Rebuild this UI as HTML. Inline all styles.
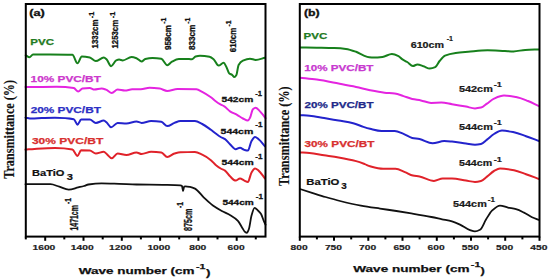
<!DOCTYPE html><html><head><meta charset="utf-8"><style>html,body{margin:0;padding:0;background:#fff;width:550px;height:280px;overflow:hidden}svg{display:block}</style></head><body>
<svg width="550" height="280" viewBox="0 0 550 280">
<rect width="550" height="280" fill="#fff"/>
<path d="M25.80,55.30 C27.03,55.93 28.27,57.20 29.50,57.20 C30.67,57.20 31.83,54.62 33.00,54.60 C38.67,54.52 44.33,54.50 50.00,54.50 C57.47,54.50 64.93,54.55 72.40,54.80 C74.10,54.86 75.80,63.30 77.50,63.30 C78.93,63.30 80.37,56.50 81.80,56.50 C84.47,56.50 87.13,56.93 89.80,57.50 C91.80,57.93 93.80,61.10 95.80,61.10 C98.47,61.10 101.13,57.50 103.80,57.50 C104.77,57.50 105.73,58.68 106.70,59.60 C108.17,61.00 109.63,66.20 111.10,66.20 C112.80,66.20 114.50,61.11 116.20,60.40 C117.17,59.99 118.13,59.60 119.10,59.60 C120.30,59.60 121.50,60.40 122.70,60.40 C125.63,60.40 128.57,57.10 131.50,57.10 C133.17,57.10 134.83,57.65 136.50,58.20 C138.20,58.76 139.90,61.60 141.60,61.60 C142.83,61.60 144.07,59.18 145.30,58.90 C147.70,58.35 150.10,58.00 152.50,58.00 C155.43,58.00 158.37,58.28 161.30,58.80 C163.30,59.15 165.30,65.20 167.30,65.20 C168.73,65.20 170.17,62.67 171.60,61.90 C174.03,60.59 176.47,59.00 178.90,59.00 C182.30,59.00 185.70,59.00 189.10,59.00 C190.07,59.00 191.03,59.30 192.00,59.30 C193.20,59.30 194.40,56.82 195.60,56.50 C197.07,56.10 198.53,55.80 200.00,55.80 C203.17,55.80 206.33,56.18 209.50,56.80 C210.87,57.07 212.23,58.12 213.60,59.20 C215.27,60.52 216.93,65.60 218.60,65.60 C220.27,65.60 221.93,62.70 223.60,62.70 C224.53,62.70 225.47,65.30 226.40,67.00 C227.37,68.76 228.33,72.71 229.30,73.50 C230.23,74.26 231.17,74.28 232.10,74.90 C232.83,75.39 233.57,77.00 234.30,77.00 C235.00,77.00 235.70,76.04 236.40,74.90 C237.13,73.70 237.87,66.19 238.60,64.90 C240.03,62.38 241.47,61.24 242.90,60.60 C245.27,59.55 247.63,58.70 250.00,58.70 C251.90,58.70 253.80,59.90 255.70,59.90 C258.80,59.90 261.90,58.43 265.00,57.70" fill="none" stroke="#17801c" stroke-width="2.0" stroke-linejoin="round" stroke-linecap="round"/>
<path d="M25.50,87.10 C35.80,86.97 46.10,86.70 56.40,86.70 C62.20,86.70 68.00,87.09 73.80,88.10 C75.27,88.35 76.73,91.50 78.20,91.50 C79.63,91.50 81.07,88.79 82.50,88.60 C84.93,88.27 87.37,88.10 89.80,88.10 C91.33,88.10 92.87,89.60 94.40,89.60 C96.80,89.60 99.20,88.60 101.60,88.60 C103.07,88.60 104.53,89.13 106.00,89.60 C107.93,90.22 109.87,92.90 111.80,92.90 C113.73,92.90 115.67,89.60 117.60,89.60 C120.03,89.60 122.47,90.60 124.90,90.60 C127.33,90.60 129.77,89.35 132.20,89.30 C135.10,89.24 138.00,89.26 140.90,89.20 C143.80,89.14 146.70,87.70 149.60,87.70 C153.00,87.70 156.40,88.11 159.80,88.60 C162.27,88.95 164.73,91.00 167.20,91.00 C170.63,91.00 174.07,88.90 177.50,88.90 C183.80,88.90 190.10,89.00 196.40,89.30 C198.33,89.39 200.27,90.82 202.20,91.80 C205.10,93.27 208.00,95.19 210.90,97.30 C212.50,98.47 214.10,100.11 215.70,101.30 C217.13,102.37 218.57,103.39 220.00,104.20 C221.43,105.01 222.87,105.41 224.30,106.30 C226.20,107.48 228.10,110.07 230.00,111.30 C232.37,112.84 234.73,113.57 237.10,114.90 C239.03,115.98 240.97,117.54 242.90,118.50 C244.57,119.33 246.23,120.60 247.90,120.60 C248.60,120.60 249.30,118.99 250.00,117.70 C250.97,115.92 251.93,110.07 252.90,109.20 C253.83,108.36 254.77,107.70 255.70,107.70 C256.90,107.70 258.10,109.46 259.30,110.60 C260.73,111.96 262.17,113.82 263.60,115.60 C264.23,116.39 264.87,117.27 265.50,118.10" fill="none" stroke="#e424e0" stroke-width="2.0" stroke-linejoin="round" stroke-linecap="round"/>
<path d="M25.50,117.70 C27.53,118.00 29.57,118.60 31.60,118.60 C35.00,118.60 38.40,118.23 41.80,118.10 C46.17,117.93 50.53,117.70 54.90,117.70 C61.20,117.70 67.50,118.01 73.80,119.20 C75.03,119.43 76.27,124.70 77.50,124.70 C78.70,124.70 79.90,119.60 81.10,119.60 C84.00,119.60 86.90,119.60 89.80,119.60 C91.80,119.60 93.80,122.90 95.80,122.90 C98.47,122.90 101.13,120.60 103.80,120.60 C104.77,120.60 105.73,121.72 106.70,122.50 C108.17,123.68 109.63,127.30 111.10,127.30 C113.27,127.30 115.43,122.90 117.60,122.90 C120.53,122.90 123.47,123.50 126.40,123.50 C129.77,123.50 133.13,121.50 136.50,121.50 C138.20,121.50 139.90,122.90 141.60,122.90 C144.77,122.90 147.93,121.10 151.10,121.10 C154.50,121.10 157.90,121.34 161.30,121.80 C163.30,122.07 165.30,126.10 167.30,126.10 C169.70,126.10 172.10,123.76 174.50,122.90 C176.47,122.19 178.43,121.10 180.40,121.10 C185.23,121.10 190.07,121.10 194.90,121.10 C197.33,121.10 199.77,122.80 202.20,124.00 C205.10,125.43 208.00,127.71 210.90,129.80 C212.50,130.95 214.10,132.33 215.70,133.50 C217.37,134.72 219.03,136.02 220.70,137.00 C222.13,137.84 223.57,138.24 225.00,139.20 C226.67,140.32 228.33,142.64 230.00,144.20 C231.90,145.98 233.80,149.20 235.70,149.20 C237.13,149.20 238.57,147.70 240.00,147.70 C241.43,147.70 242.87,149.50 244.30,149.90 C245.50,150.23 246.70,150.60 247.90,150.60 C249.07,150.60 250.23,143.23 251.40,141.30 C252.60,139.32 253.80,137.00 255.00,137.00 C256.20,137.00 257.40,138.28 258.60,139.20 C260.73,140.84 262.87,143.93 265.00,146.30" fill="none" stroke="#2323cc" stroke-width="2.0" stroke-linejoin="round" stroke-linecap="round"/>
<path d="M25.50,149.60 C28.50,149.37 31.50,149.06 34.50,148.90 C41.30,148.53 48.10,148.10 54.90,148.10 C60.73,148.10 66.57,148.49 72.40,149.60 C74.10,149.92 75.80,155.90 77.50,155.90 C78.70,155.90 79.90,150.30 81.10,150.30 C84.00,150.30 86.90,150.40 89.80,150.60 C91.80,150.74 93.80,153.50 95.80,153.50 C98.47,153.50 101.13,151.80 103.80,151.80 C104.77,151.80 105.73,153.23 106.70,154.00 C108.40,155.35 110.10,158.30 111.80,158.30 C113.73,158.30 115.67,153.50 117.60,153.50 C120.53,153.50 123.47,155.00 126.40,155.00 C129.77,155.00 133.13,152.50 136.50,152.50 C138.20,152.50 139.90,154.00 141.60,154.00 C144.77,154.00 147.93,151.80 151.10,151.80 C154.50,151.80 157.90,152.04 161.30,152.50 C163.30,152.77 165.30,156.90 167.30,156.90 C169.70,156.90 172.10,154.21 174.50,153.50 C176.47,152.92 178.43,152.23 180.40,152.20 C185.23,152.13 190.07,152.10 194.90,152.10 C197.33,152.10 199.77,153.60 202.20,154.70 C205.10,156.01 208.00,157.92 210.90,160.20 C212.50,161.46 214.10,163.57 215.70,164.90 C217.37,166.28 219.03,167.53 220.70,168.50 C222.13,169.33 223.57,169.63 225.00,170.60 C226.67,171.73 228.33,174.78 230.00,176.30 C231.90,178.03 233.80,180.60 235.70,180.60 C237.13,180.60 238.57,178.50 240.00,178.50 C241.43,178.50 242.87,179.98 244.30,180.60 C245.50,181.12 246.70,182.00 247.90,182.00 C249.07,182.00 250.23,174.60 251.40,172.70 C252.60,170.75 253.80,168.50 255.00,168.50 C256.20,168.50 257.40,169.68 258.60,170.60 C260.73,172.24 262.87,175.87 265.00,178.50" fill="none" stroke="#e0222a" stroke-width="2.0" stroke-linejoin="round" stroke-linecap="round"/>
<path d="M25.50,184.20 C33.83,184.20 42.17,184.20 50.50,184.20 C53.43,184.20 56.37,185.83 59.30,186.70 C62.43,187.63 65.57,189.60 68.70,189.60 C71.87,189.60 75.03,188.15 78.20,187.40 C80.13,186.94 82.07,186.55 84.00,186.00 C85.47,185.58 86.93,184.73 88.40,184.50 C92.80,183.80 97.20,183.30 101.60,183.30 C107.43,183.30 113.27,183.61 119.10,183.80 C124.90,183.99 130.70,184.37 136.50,184.50 C145.23,184.70 153.97,184.72 162.70,184.90 C168.60,185.02 174.50,184.99 180.40,185.40 C180.93,185.44 181.47,185.60 182.00,186.00 C182.33,186.25 182.67,191.00 183.00,191.00 C183.40,191.00 183.80,186.78 184.20,186.60 C184.63,186.41 185.07,186.30 185.50,186.30 C187.00,186.30 188.50,186.61 190.00,186.90 C191.67,187.22 193.33,187.79 195.00,188.60 C197.97,190.04 200.93,194.79 203.90,197.60 C206.90,200.44 209.90,203.44 212.90,205.60 C215.87,207.74 218.83,209.38 221.80,211.00 C224.77,212.62 227.73,213.62 230.70,215.40 C233.10,216.84 235.50,218.27 237.90,220.80 C239.37,222.35 240.83,225.67 242.30,227.90 C243.27,229.37 244.23,231.51 245.20,232.10 C245.77,232.45 246.33,232.80 246.90,232.80 C247.57,232.80 248.23,230.82 248.90,229.00 C249.73,226.72 250.57,218.99 251.40,216.10 C252.47,212.40 253.53,207.90 254.60,207.90 C255.73,207.90 256.87,209.55 258.00,210.60 C258.97,211.50 259.93,212.35 260.90,213.80 C262.10,215.61 263.30,220.18 264.50,222.70 C264.83,223.40 265.17,223.97 265.50,224.60" fill="none" stroke="#111111" stroke-width="1.8" stroke-linejoin="round" stroke-linecap="round"/>
<path d="M300.00,47.40 C305.60,47.50 311.20,47.59 316.80,47.70 C322.63,47.82 328.47,47.89 334.30,48.10 C338.17,48.24 342.03,48.47 345.90,48.90 C349.30,49.28 352.70,50.56 356.10,51.80 C358.53,52.69 360.97,54.45 363.40,55.40 C365.33,56.16 367.27,57.09 369.20,57.30 C370.70,57.46 372.20,57.60 373.70,57.60 C376.63,57.60 379.57,57.27 382.50,56.90 C385.63,56.51 388.77,54.00 391.90,54.00 C394.10,54.00 396.30,55.03 398.50,56.10 C399.70,56.68 400.90,58.38 402.10,59.20 C403.80,60.35 405.50,60.96 407.20,62.00 C409.10,63.17 411.00,66.00 412.90,66.00 C414.37,66.00 415.83,64.50 417.30,64.50 C419.40,64.50 421.50,65.62 423.60,66.30 C425.67,66.97 427.73,68.60 429.80,68.60 C431.60,68.60 433.40,68.01 435.20,67.20 C436.67,66.54 438.13,62.73 439.60,61.00 C441.40,58.88 443.20,56.38 445.00,55.60 C448.57,54.06 452.13,53.40 455.70,52.90 C459.87,52.31 464.03,52.06 468.20,51.70 C474.63,51.14 481.07,50.20 487.50,50.20 C493.30,50.20 499.10,50.73 504.90,51.00 C507.80,51.13 510.70,51.40 513.60,51.40 C517.50,51.40 521.40,50.09 525.30,49.90 C529.87,49.68 534.43,49.63 539.00,49.50" fill="none" stroke="#17801c" stroke-width="2.0" stroke-linejoin="round" stroke-linecap="round"/>
<path d="M300.00,77.70 C305.60,78.33 311.20,78.83 316.80,79.60 C324.07,80.60 331.33,82.14 338.60,83.50 C344.43,84.59 350.27,85.65 356.10,86.90 C360.73,87.89 365.37,89.27 370.00,90.20 C374.83,91.17 379.67,92.15 384.50,92.70 C387.90,93.09 391.30,93.14 394.70,93.60 C397.63,94.00 400.57,95.20 403.50,96.10 C406.40,96.99 409.30,98.37 412.20,99.00 C415.10,99.63 418.00,99.84 420.90,100.40 C424.30,101.06 427.70,102.90 431.10,102.90 C434.50,102.90 437.90,102.60 441.30,102.60 C444.87,102.60 448.43,103.63 452.00,104.20 C456.67,104.94 461.33,105.73 466.00,106.60 C469.00,107.16 472.00,108.40 475.00,108.40 C477.00,108.40 479.00,108.04 481.00,107.60 C483.00,107.16 485.00,104.98 487.00,103.60 C489.33,101.99 491.67,99.61 494.00,98.60 C497.33,97.16 500.67,95.60 504.00,95.60 C508.00,95.60 512.00,96.31 516.00,97.00 C520.00,97.69 524.00,99.43 528.00,101.00 C531.67,102.44 535.33,104.47 539.00,106.20" fill="none" stroke="#e424e0" stroke-width="2.0" stroke-linejoin="round" stroke-linecap="round"/>
<path d="M300.00,115.20 C303.17,115.37 306.33,115.46 309.50,115.70 C314.37,116.07 319.23,117.28 324.10,118.10 C328.93,118.91 333.77,119.75 338.60,120.60 C343.47,121.45 348.33,122.01 353.20,123.20 C356.60,124.03 360.00,125.82 363.40,126.90 C365.60,127.60 367.80,128.29 370.00,128.80 C373.87,129.70 377.73,131.00 381.60,131.00 C385.97,131.00 390.33,131.00 394.70,131.00 C397.63,131.00 400.57,132.77 403.50,133.90 C406.40,135.01 409.30,137.25 412.20,137.90 C414.63,138.44 417.07,138.51 419.50,139.00 C423.83,139.87 428.17,143.30 432.50,143.30 C436.40,143.30 440.30,141.10 444.20,141.10 C446.80,141.10 449.40,141.38 452.00,141.60 C456.67,142.00 461.33,142.96 466.00,143.60 C469.00,144.01 472.00,144.80 475.00,144.80 C477.00,144.80 479.00,144.45 481.00,144.00 C483.00,143.55 485.00,141.13 487.00,139.60 C489.33,137.82 491.67,135.30 494.00,134.00 C496.67,132.51 499.33,130.60 502.00,130.60 C506.00,130.60 510.00,131.44 514.00,132.20 C518.00,132.96 522.00,134.80 526.00,136.20 C530.33,137.72 534.67,139.40 539.00,141.00" fill="none" stroke="#2323cc" stroke-width="2.0" stroke-linejoin="round" stroke-linecap="round"/>
<path d="M300.00,152.40 C303.17,152.63 306.33,152.79 309.50,153.10 C314.37,153.57 319.23,154.56 324.10,155.30 C328.93,156.03 333.77,156.66 338.60,157.50 C344.43,158.51 350.27,159.55 356.10,161.10 C359.00,161.87 361.90,162.99 364.80,164.10 C366.53,164.76 368.27,165.82 370.00,166.30 C374.37,167.51 378.73,168.80 383.10,168.80 C387.23,168.80 391.37,168.80 395.50,168.80 C398.63,168.80 401.77,170.88 404.90,172.10 C407.57,173.14 410.23,175.05 412.90,175.60 C415.10,176.05 417.30,176.10 419.50,176.50 C424.33,177.37 429.17,180.90 434.00,180.90 C436.90,180.90 439.80,178.50 442.70,178.50 C445.80,178.50 448.90,178.54 452.00,178.60 C456.67,178.69 461.33,179.93 466.00,180.60 C469.00,181.03 472.00,181.90 475.00,181.90 C477.00,181.90 479.00,181.50 481.00,181.00 C483.00,180.50 485.00,178.13 487.00,176.60 C489.33,174.82 491.67,172.23 494.00,171.00 C496.00,169.94 498.00,168.60 500.00,168.60 C504.67,168.60 509.33,169.40 514.00,170.20 C518.00,170.89 522.00,172.80 526.00,174.20 C530.33,175.72 534.67,177.40 539.00,179.00" fill="none" stroke="#e0222a" stroke-width="2.0" stroke-linejoin="round" stroke-linecap="round"/>
<path d="M300.00,189.00 C304.00,190.27 308.00,191.54 312.00,192.80 C316.50,194.21 321.00,195.68 325.50,197.00 C330.33,198.41 335.17,199.81 340.00,201.00 C346.97,202.72 353.93,204.33 360.90,205.60 C367.27,206.76 373.63,207.64 380.00,208.60 C385.47,209.43 390.93,210.16 396.40,211.00 C402.13,211.88 407.87,212.82 413.60,213.80 C419.53,214.81 425.47,215.83 431.40,217.00 C434.97,217.70 438.53,218.54 442.10,219.30 C445.40,220.00 448.70,220.48 452.00,221.40 C454.67,222.15 457.33,223.36 460.00,224.60 C463.33,226.15 466.67,229.13 470.00,230.20 C471.67,230.74 473.33,231.40 475.00,231.40 C476.67,231.40 478.33,230.68 480.00,229.80 C482.00,228.74 484.00,222.79 486.00,219.60 C488.00,216.41 490.00,212.40 492.00,210.60 C494.67,208.20 497.33,205.60 500.00,205.60 C502.67,205.60 505.33,207.01 508.00,207.60 C510.67,208.19 513.33,208.47 516.00,209.20 C518.67,209.93 521.33,211.30 524.00,212.60 C526.67,213.90 529.33,215.95 532.00,217.20 C534.33,218.30 536.67,219.07 539.00,220.00" fill="none" stroke="#111111" stroke-width="1.8" stroke-linejoin="round" stroke-linecap="round"/>
<rect x="25.8" y="4" width="239.7" height="232.6" fill="none" stroke="#000" stroke-width="2"/>
<rect x="299.8" y="4" width="239.7" height="232.6" fill="none" stroke="#000" stroke-width="2"/>
<line x1="45.2" y1="236.6" x2="45.2" y2="240.8" stroke="#000" stroke-width="2"/>
<line x1="83.5" y1="236.6" x2="83.5" y2="240.8" stroke="#000" stroke-width="2"/>
<line x1="121.8" y1="236.6" x2="121.8" y2="240.8" stroke="#000" stroke-width="2"/>
<line x1="160.1" y1="236.6" x2="160.1" y2="240.8" stroke="#000" stroke-width="2"/>
<line x1="198.4" y1="236.6" x2="198.4" y2="240.8" stroke="#000" stroke-width="2"/>
<line x1="236.7" y1="236.6" x2="236.7" y2="240.8" stroke="#000" stroke-width="2"/>
<line x1="64.3" y1="236.6" x2="64.3" y2="239.4" stroke="#000" stroke-width="2"/>
<line x1="102.7" y1="236.6" x2="102.7" y2="239.4" stroke="#000" stroke-width="2"/>
<line x1="140.9" y1="236.6" x2="140.9" y2="239.4" stroke="#000" stroke-width="2"/>
<line x1="179.2" y1="236.6" x2="179.2" y2="239.4" stroke="#000" stroke-width="2"/>
<line x1="217.5" y1="236.6" x2="217.5" y2="239.4" stroke="#000" stroke-width="2"/>
<line x1="255.8" y1="236.6" x2="255.8" y2="239.4" stroke="#000" stroke-width="2"/>
<line x1="25.8" y1="236.6" x2="25.8" y2="239.4" stroke="#000" stroke-width="2"/>
<line x1="299.8" y1="236.6" x2="299.8" y2="240.8" stroke="#000" stroke-width="2"/>
<line x1="316.9" y1="236.6" x2="316.9" y2="239.4" stroke="#000" stroke-width="2"/>
<line x1="334.0" y1="236.6" x2="334.0" y2="240.8" stroke="#000" stroke-width="2"/>
<line x1="351.2" y1="236.6" x2="351.2" y2="239.4" stroke="#000" stroke-width="2"/>
<line x1="368.3" y1="236.6" x2="368.3" y2="240.8" stroke="#000" stroke-width="2"/>
<line x1="385.4" y1="236.6" x2="385.4" y2="239.4" stroke="#000" stroke-width="2"/>
<line x1="402.5" y1="236.6" x2="402.5" y2="240.8" stroke="#000" stroke-width="2"/>
<line x1="419.6" y1="236.6" x2="419.6" y2="239.4" stroke="#000" stroke-width="2"/>
<line x1="436.8" y1="236.6" x2="436.8" y2="240.8" stroke="#000" stroke-width="2"/>
<line x1="453.9" y1="236.6" x2="453.9" y2="239.4" stroke="#000" stroke-width="2"/>
<line x1="471.0" y1="236.6" x2="471.0" y2="240.8" stroke="#000" stroke-width="2"/>
<line x1="488.1" y1="236.6" x2="488.1" y2="239.4" stroke="#000" stroke-width="2"/>
<line x1="505.2" y1="236.6" x2="505.2" y2="240.8" stroke="#000" stroke-width="2"/>
<line x1="522.4" y1="236.6" x2="522.4" y2="239.4" stroke="#000" stroke-width="2"/>
<line x1="539.5" y1="236.6" x2="539.5" y2="240.8" stroke="#000" stroke-width="2"/>
<text x="32.5" y="249.7" font-family='"Liberation Sans", sans-serif' font-weight="bold" font-size="8.00" fill="#222" stroke="#222" stroke-width="0.20" textLength="22.8" lengthAdjust="spacingAndGlyphs">1600</text>
<text x="70.8" y="249.7" font-family='"Liberation Sans", sans-serif' font-weight="bold" font-size="8.00" fill="#222" stroke="#222" stroke-width="0.20" textLength="22.8" lengthAdjust="spacingAndGlyphs">1400</text>
<text x="109.1" y="249.7" font-family='"Liberation Sans", sans-serif' font-weight="bold" font-size="8.00" fill="#222" stroke="#222" stroke-width="0.20" textLength="22.8" lengthAdjust="spacingAndGlyphs">1200</text>
<text x="147.4" y="249.7" font-family='"Liberation Sans", sans-serif' font-weight="bold" font-size="8.00" fill="#222" stroke="#222" stroke-width="0.20" textLength="22.8" lengthAdjust="spacingAndGlyphs">1000</text>
<text x="189.2" y="249.7" font-family='"Liberation Sans", sans-serif' font-weight="bold" font-size="8.00" fill="#222" stroke="#222" stroke-width="0.20" textLength="17.1" lengthAdjust="spacingAndGlyphs">800</text>
<text x="227.5" y="249.7" font-family='"Liberation Sans", sans-serif' font-weight="bold" font-size="8.00" fill="#222" stroke="#222" stroke-width="0.20" textLength="17.1" lengthAdjust="spacingAndGlyphs">600</text>
<text x="290.6" y="249.7" font-family='"Liberation Sans", sans-serif' font-weight="bold" font-size="8.00" fill="#222" stroke="#222" stroke-width="0.20" textLength="17.1" lengthAdjust="spacingAndGlyphs">800</text>
<text x="324.9" y="249.7" font-family='"Liberation Sans", sans-serif' font-weight="bold" font-size="8.00" fill="#222" stroke="#222" stroke-width="0.20" textLength="17.1" lengthAdjust="spacingAndGlyphs">750</text>
<text x="359.1" y="249.7" font-family='"Liberation Sans", sans-serif' font-weight="bold" font-size="8.00" fill="#222" stroke="#222" stroke-width="0.20" textLength="17.1" lengthAdjust="spacingAndGlyphs">700</text>
<text x="393.4" y="249.7" font-family='"Liberation Sans", sans-serif' font-weight="bold" font-size="8.00" fill="#222" stroke="#222" stroke-width="0.20" textLength="17.1" lengthAdjust="spacingAndGlyphs">650</text>
<text x="427.6" y="249.7" font-family='"Liberation Sans", sans-serif' font-weight="bold" font-size="8.00" fill="#222" stroke="#222" stroke-width="0.20" textLength="17.1" lengthAdjust="spacingAndGlyphs">600</text>
<text x="461.8" y="249.7" font-family='"Liberation Sans", sans-serif' font-weight="bold" font-size="8.00" fill="#222" stroke="#222" stroke-width="0.20" textLength="17.1" lengthAdjust="spacingAndGlyphs">550</text>
<text x="496.1" y="249.7" font-family='"Liberation Sans", sans-serif' font-weight="bold" font-size="8.00" fill="#222" stroke="#222" stroke-width="0.20" textLength="17.1" lengthAdjust="spacingAndGlyphs">500</text>
<text x="530.3" y="249.7" font-family='"Liberation Sans", sans-serif' font-weight="bold" font-size="8.00" fill="#222" stroke="#222" stroke-width="0.20" textLength="17.1" lengthAdjust="spacingAndGlyphs">450</text>
<text x="78.8" y="274.4" font-family='"Liberation Sans", sans-serif' font-weight="bold" font-size="9.60" fill="#111" stroke="#111" stroke-width="0.25" textLength="115.7" lengthAdjust="spacingAndGlyphs">Wave number (cm</text>
<text x="195.9" y="269.1" font-family='"Liberation Sans", sans-serif' font-weight="bold" font-size="8.00" fill="#111" stroke="#111" stroke-width="0.25" textLength="9.5" lengthAdjust="spacingAndGlyphs">-1</text>
<text x="206.0" y="275.8" font-family='"Liberation Sans", sans-serif' font-weight="bold" font-size="9.60" fill="#111" stroke="#111" stroke-width="0.25" textLength="4.5" lengthAdjust="spacingAndGlyphs">)</text>
<text x="353.3" y="272.4" font-family='"Liberation Sans", sans-serif' font-weight="bold" font-size="9.60" fill="#111" stroke="#111" stroke-width="0.25" textLength="116.2" lengthAdjust="spacingAndGlyphs">Wave number (cm</text>
<text x="470.8" y="267.4" font-family='"Liberation Sans", sans-serif' font-weight="bold" font-size="8.00" fill="#111" stroke="#111" stroke-width="0.25" textLength="9.6" lengthAdjust="spacingAndGlyphs">-1</text>
<text x="480.5" y="273.8" font-family='"Liberation Sans", sans-serif' font-weight="bold" font-size="9.60" fill="#111" stroke="#111" stroke-width="0.25" textLength="4.3" lengthAdjust="spacingAndGlyphs">)</text>
<text transform="translate(14.0,178.8) scale(1.200,1) rotate(-90)" x="0" y="0" font-family='"Liberation Serif", serif' font-weight="bold" font-size="13.00" fill="#111" stroke="#111" stroke-width="0.15" textLength="98.8" lengthAdjust="spacingAndGlyphs">Transmittance (%)</text>
<text transform="translate(289.4,186.0) scale(1.200,1) rotate(-90)" x="0" y="0" font-family='"Liberation Serif", serif' font-weight="bold" font-size="13.00" fill="#111" stroke="#111" stroke-width="0.15" textLength="99.6" lengthAdjust="spacingAndGlyphs">Transmittance (%)</text>
<text x="29.2" y="16.2" font-family='"Liberation Sans", sans-serif' font-weight="bold" font-size="9.30" fill="#111" stroke="#111" stroke-width="0.35" textLength="15.5" lengthAdjust="spacingAndGlyphs">(a)</text>
<text x="304.0" y="16.0" font-family='"Liberation Sans", sans-serif' font-weight="bold" font-size="9.30" fill="#111" stroke="#111" stroke-width="0.35" textLength="15.7" lengthAdjust="spacingAndGlyphs">(b)</text>
<text x="30.3" y="45.2" font-family='"Liberation Sans", sans-serif' font-weight="bold" font-size="9.50" fill="#1f7a22" stroke="#1f7a22" stroke-width="0.25" textLength="23.7" lengthAdjust="spacingAndGlyphs">PVC</text>
<text x="30.6" y="81.5" font-family='"Liberation Sans", sans-serif' font-weight="bold" font-size="9.20" fill="#cc38cc" stroke="#cc38cc" stroke-width="0.25" textLength="70.3" lengthAdjust="spacingAndGlyphs">10% PVC/BT</text>
<text x="30.7" y="113.1" font-family='"Liberation Sans", sans-serif' font-weight="bold" font-size="9.20" fill="#2c30c4" stroke="#2c30c4" stroke-width="0.25" textLength="70.2" lengthAdjust="spacingAndGlyphs">20% PVC/BT</text>
<text x="31.9" y="143.9" font-family='"Liberation Sans", sans-serif' font-weight="bold" font-size="9.20" fill="#d83030" stroke="#d83030" stroke-width="0.25" textLength="71.5" lengthAdjust="spacingAndGlyphs">30% PVC/BT</text>
<text x="32.0" y="175.6" font-family='"Liberation Sans", sans-serif' font-weight="bold" font-size="8.60" fill="#111" stroke="#111" stroke-width="0.20" textLength="32.5" lengthAdjust="spacingAndGlyphs">BaTiO</text>
<text x="66.8" y="179.8" font-family='"Liberation Sans", sans-serif' font-weight="bold" font-size="9.00" fill="#111" stroke="#111" stroke-width="0.20" textLength="6.2" lengthAdjust="spacingAndGlyphs">3</text>
<text x="303.6" y="39.4" font-family='"Liberation Sans", sans-serif' font-weight="bold" font-size="9.50" fill="#1f7a22" stroke="#1f7a22" stroke-width="0.25" textLength="23.7" lengthAdjust="spacingAndGlyphs">PVC</text>
<text x="304.2" y="70.9" font-family='"Liberation Sans", sans-serif' font-weight="bold" font-size="9.20" fill="#c83ad0" stroke="#c83ad0" stroke-width="0.25" textLength="69.3" lengthAdjust="spacingAndGlyphs">10% PVC/BT</text>
<text x="304.5" y="107.5" font-family='"Liberation Sans", sans-serif' font-weight="bold" font-size="9.20" fill="#222a8a" stroke="#222a8a" stroke-width="0.25" textLength="69.1" lengthAdjust="spacingAndGlyphs">20% PVC/BT</text>
<text x="304.5" y="146.7" font-family='"Liberation Sans", sans-serif' font-weight="bold" font-size="9.20" fill="#d83030" stroke="#d83030" stroke-width="0.25" textLength="69.9" lengthAdjust="spacingAndGlyphs">30% PVC/BT</text>
<text x="306.3" y="185.2" font-family='"Liberation Sans", sans-serif' font-weight="bold" font-size="8.60" fill="#111" stroke="#111" stroke-width="0.20" textLength="33.1" lengthAdjust="spacingAndGlyphs">BaTiO</text>
<text x="341.3" y="189.2" font-family='"Liberation Sans", sans-serif' font-weight="bold" font-size="9.00" fill="#111" stroke="#111" stroke-width="0.20" textLength="5.5" lengthAdjust="spacingAndGlyphs">3</text>
<text x="221.5" y="102.4" font-family='"Liberation Sans", sans-serif' font-weight="bold" font-size="8.00" fill="#111" stroke="#111" stroke-width="0.30" textLength="31.8" lengthAdjust="spacingAndGlyphs">542cm</text>
<text x="255.3" y="96.3" font-family='"Liberation Sans", sans-serif' font-weight="bold" font-size="7.60" fill="#111" stroke="#111" stroke-width="0.30" textLength="6.8" lengthAdjust="spacingAndGlyphs">-1</text>
<text x="220.6" y="133.5" font-family='"Liberation Sans", sans-serif' font-weight="bold" font-size="8.00" fill="#111" stroke="#111" stroke-width="0.30" textLength="32.7" lengthAdjust="spacingAndGlyphs">544cm</text>
<text x="255.3" y="127.4" font-family='"Liberation Sans", sans-serif' font-weight="bold" font-size="7.60" fill="#111" stroke="#111" stroke-width="0.30" textLength="7.2" lengthAdjust="spacingAndGlyphs">-1</text>
<text x="221.5" y="164.8" font-family='"Liberation Sans", sans-serif' font-weight="bold" font-size="8.00" fill="#111" stroke="#111" stroke-width="0.30" textLength="32.3" lengthAdjust="spacingAndGlyphs">544cm</text>
<text x="255.3" y="158.9" font-family='"Liberation Sans", sans-serif' font-weight="bold" font-size="7.60" fill="#111" stroke="#111" stroke-width="0.30" textLength="7.2" lengthAdjust="spacingAndGlyphs">-1</text>
<text x="222.4" y="204.8" font-family='"Liberation Sans", sans-serif' font-weight="bold" font-size="8.00" fill="#111" stroke="#111" stroke-width="0.30" textLength="31.4" lengthAdjust="spacingAndGlyphs">544cm</text>
<text x="255.7" y="199.3" font-family='"Liberation Sans", sans-serif' font-weight="bold" font-size="7.60" fill="#111" stroke="#111" stroke-width="0.30" textLength="7.2" lengthAdjust="spacingAndGlyphs">-1</text>
<text x="410.7" y="47.5" font-family='"Liberation Sans", sans-serif' font-weight="bold" font-size="8.20" fill="#1a1a1a" stroke="#1a1a1a" stroke-width="0.20" textLength="33.4" lengthAdjust="spacingAndGlyphs">610cm</text>
<text x="446.7" y="41.1" font-family='"Liberation Sans", sans-serif' font-weight="bold" font-size="7.20" fill="#1a1a1a" stroke="#1a1a1a" stroke-width="0.20" textLength="6.3" lengthAdjust="spacingAndGlyphs">-1</text>
<text x="459.0" y="91.6" font-family='"Liberation Sans", sans-serif' font-weight="bold" font-size="8.20" fill="#1a1a1a" stroke="#1a1a1a" stroke-width="0.20" textLength="33.8" lengthAdjust="spacingAndGlyphs">542cm</text>
<text x="493.8" y="86.5" font-family='"Liberation Sans", sans-serif' font-weight="bold" font-size="7.20" fill="#1a1a1a" stroke="#1a1a1a" stroke-width="0.20" textLength="8.2" lengthAdjust="spacingAndGlyphs">-1</text>
<text x="459.0" y="129.6" font-family='"Liberation Sans", sans-serif' font-weight="bold" font-size="8.20" fill="#1a1a1a" stroke="#1a1a1a" stroke-width="0.20" textLength="33.8" lengthAdjust="spacingAndGlyphs">544cm</text>
<text x="493.8" y="124.5" font-family='"Liberation Sans", sans-serif' font-weight="bold" font-size="7.20" fill="#1a1a1a" stroke="#1a1a1a" stroke-width="0.20" textLength="8.2" lengthAdjust="spacingAndGlyphs">-1</text>
<text x="459.0" y="166.4" font-family='"Liberation Sans", sans-serif' font-weight="bold" font-size="8.20" fill="#1a1a1a" stroke="#1a1a1a" stroke-width="0.20" textLength="33.2" lengthAdjust="spacingAndGlyphs">544cm</text>
<text x="493.8" y="161.5" font-family='"Liberation Sans", sans-serif' font-weight="bold" font-size="7.20" fill="#1a1a1a" stroke="#1a1a1a" stroke-width="0.20" textLength="8.2" lengthAdjust="spacingAndGlyphs">-1</text>
<text x="453.0" y="207.0" font-family='"Liberation Sans", sans-serif' font-weight="bold" font-size="8.20" fill="#1a1a1a" stroke="#1a1a1a" stroke-width="0.20" textLength="33.8" lengthAdjust="spacingAndGlyphs">544cm</text>
<text x="487.8" y="201.5" font-family='"Liberation Sans", sans-serif' font-weight="bold" font-size="7.20" fill="#1a1a1a" stroke="#1a1a1a" stroke-width="0.20" textLength="7.2" lengthAdjust="spacingAndGlyphs">-1</text>
<text transform="translate(98.3,48.5) scale(1.220,1) rotate(-90)" x="0" y="0" font-family='"Liberation Sans", sans-serif' font-weight="bold" font-size="8.00" fill="#111" stroke="#111" stroke-width="0.25" textLength="28.9" lengthAdjust="spacingAndGlyphs">1332cm</text>
<text transform="translate(94.2,18.2) scale(1.220,1) rotate(-90)" x="0" y="0" font-family='"Liberation Sans", sans-serif' font-weight="bold" font-size="6.60" fill="#111" stroke="#111" stroke-width="0.25" textLength="6.4" lengthAdjust="spacingAndGlyphs">-1</text>
<text transform="translate(118.4,48.6) scale(1.220,1) rotate(-90)" x="0" y="0" font-family='"Liberation Sans", sans-serif' font-weight="bold" font-size="8.00" fill="#111" stroke="#111" stroke-width="0.25" textLength="28.8" lengthAdjust="spacingAndGlyphs">1253cm</text>
<text transform="translate(114.6,18.2) scale(1.220,1) rotate(-90)" x="0" y="0" font-family='"Liberation Sans", sans-serif' font-weight="bold" font-size="6.60" fill="#111" stroke="#111" stroke-width="0.25" textLength="6.4" lengthAdjust="spacingAndGlyphs">-1</text>
<text transform="translate(171.3,50.1) scale(1.220,1) rotate(-90)" x="0" y="0" font-family='"Liberation Sans", sans-serif' font-weight="bold" font-size="8.00" fill="#111" stroke="#111" stroke-width="0.25" textLength="25.1" lengthAdjust="spacingAndGlyphs">958cm</text>
<text transform="translate(166.3,23.8) scale(1.220,1) rotate(-90)" x="0" y="0" font-family='"Liberation Sans", sans-serif' font-weight="bold" font-size="6.60" fill="#111" stroke="#111" stroke-width="0.25" textLength="6.0" lengthAdjust="spacingAndGlyphs">-1</text>
<text transform="translate(195.3,50.1) scale(1.220,1) rotate(-90)" x="0" y="0" font-family='"Liberation Sans", sans-serif' font-weight="bold" font-size="8.00" fill="#111" stroke="#111" stroke-width="0.25" textLength="25.4" lengthAdjust="spacingAndGlyphs">833cm</text>
<text transform="translate(190.3,23.8) scale(1.220,1) rotate(-90)" x="0" y="0" font-family='"Liberation Sans", sans-serif' font-weight="bold" font-size="6.60" fill="#111" stroke="#111" stroke-width="0.25" textLength="6.0" lengthAdjust="spacingAndGlyphs">-1</text>
<text transform="translate(235.5,52.2) scale(1.220,1) rotate(-90)" x="0" y="0" font-family='"Liberation Sans", sans-serif' font-weight="bold" font-size="8.00" fill="#111" stroke="#111" stroke-width="0.25" textLength="24.4" lengthAdjust="spacingAndGlyphs">610cm</text>
<text transform="translate(230.6,26.5) scale(1.220,1) rotate(-90)" x="0" y="0" font-family='"Liberation Sans", sans-serif' font-weight="bold" font-size="6.60" fill="#111" stroke="#111" stroke-width="0.25" textLength="6.0" lengthAdjust="spacingAndGlyphs">-1</text>
<text transform="translate(78.2,230.5) scale(1.300,1) rotate(-90)" x="0" y="0" font-family='"Liberation Sans", sans-serif' font-weight="bold" font-size="8.00" fill="#111" stroke="#111" stroke-width="0.25" textLength="25.3" lengthAdjust="spacingAndGlyphs">1471cm</text>
<text transform="translate(71.0,204.0) scale(1.300,1) rotate(-90)" x="0" y="0" font-family='"Liberation Sans", sans-serif' font-weight="bold" font-size="6.60" fill="#111" stroke="#111" stroke-width="0.25" textLength="6.0" lengthAdjust="spacingAndGlyphs">-1</text>
<text transform="translate(192.3,230.9) scale(1.300,1) rotate(-90)" x="0" y="0" font-family='"Liberation Sans", sans-serif' font-weight="bold" font-size="8.00" fill="#111" stroke="#111" stroke-width="0.25" textLength="22.3" lengthAdjust="spacingAndGlyphs">875cm</text>
<text transform="translate(183.4,208.0) scale(1.300,1) rotate(-90)" x="0" y="0" font-family='"Liberation Sans", sans-serif' font-weight="bold" font-size="6.60" fill="#111" stroke="#111" stroke-width="0.25" textLength="6.0" lengthAdjust="spacingAndGlyphs">-1</text>
</svg></body></html>
